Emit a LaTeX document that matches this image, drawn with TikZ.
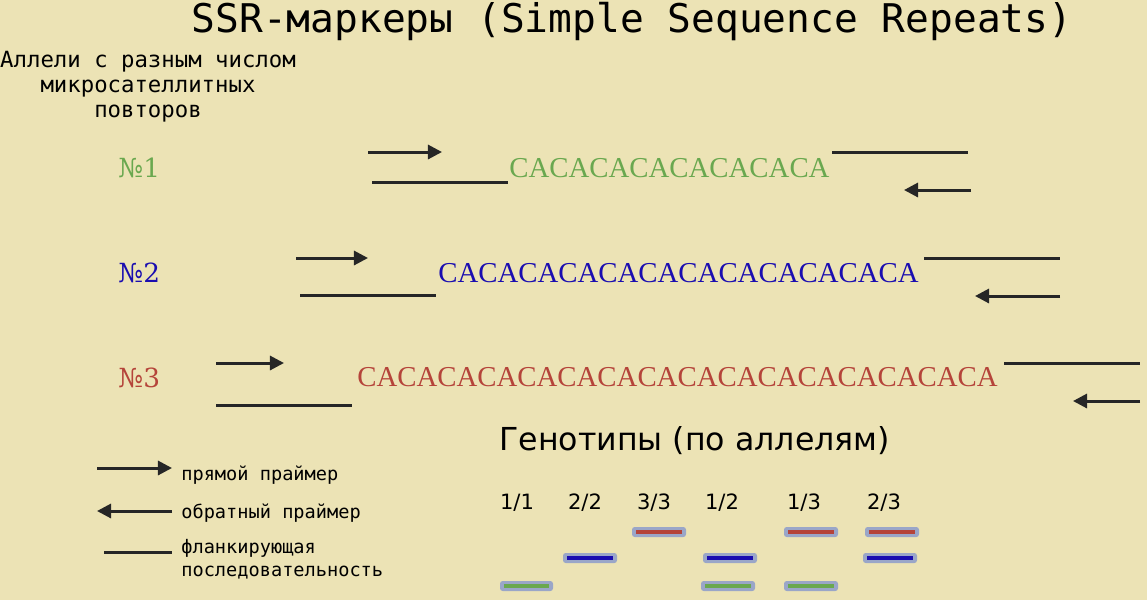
\documentclass[tikz,border=0pt]{standalone}
\usepackage{fontspec}
\setmainfont{Liberation Serif}
\newfontfamily\monof{DejaVu Sans Mono}
\newfontfamily\sansf{DejaVu Sans}
\newfontfamily\numf{DejaVu Serif}
\usetikzlibrary{arrows.meta}
\definecolor{bg}{HTML}{ECE3B5}
\definecolor{cg}{HTML}{6AA84F}
\definecolor{cb}{HTML}{1A0DB0}
\definecolor{cr}{HTML}{B5443A}
\definecolor{halo}{HTML}{9AA6C8}
\tikzset{
  ln/.style={line width=1.7pt,draw=black!85},
  arr/.style={ln,-{Triangle[length=8pt,width=8pt]}},
  seq/.style={anchor=west,inner sep=0,font=\fontsize{16.4}{18}\selectfont},
  num/.style={anchor=west,inner sep=0,font=\numf\fontsize{15}{18}\selectfont},
  leg/.style={anchor=west,inner sep=0,font=\monof\fontsize{10.6}{13}\selectfont,align=left},
  gl/.style={inner sep=0,font=\sansf\fontsize{12}{14}\selectfont},
}
\newcommand{\band}[4]{%
  \fill[halo,rounded corners=1.5pt] (#1,#3-5) rectangle (#2,#3+5);
  \draw[#4,line width=2.2pt] (#1+4,#3) -- (#2-4,#3);}
\begin{document}
\begin{tikzpicture}[x=0.02cm,y=-0.02cm]
\fill[bg] (0,0) rectangle (1147,600);
\useasboundingbox (0,0) rectangle (1147,600);
\node[inner sep=0,font=\monof\fontsize{22.5}{26}\selectfont] (title) at (632,22) {SSR-маркеры (Simple Sequence Repeats)};
\node[inner sep=0,align=center,font=\monof\fontsize{12.7}{14.2}\selectfont] (hdr) at (148,87) {Аллели с разным числом\\микросателлитных\\повторов};
% row 1
\node[num,text=cg] (n1) at (118,168) {№1};
\coordinate (a1s) at (368,152); \coordinate (a1e) at (442,152);
\draw[arr] (a1s) -- (a1e);
\coordinate (l1s) at (372,182); \coordinate (l1e) at (508,182);
\draw[ln] (l1s) -- (l1e);
\node[seq,text=cg] (s1) at (509,168) {CACACACACACACACA};
\coordinate (r1s) at (832,152); \coordinate (r1e) at (968,152);
\draw[ln] (r1s) -- (r1e);
\coordinate (b1s) at (971,190); \coordinate (b1e) at (904,190);
\draw[arr] (b1s) -- (b1e);
% row 2
\node[num,text=cb] (n2) at (118,273) {№2};
\coordinate (a2s) at (296,258); \coordinate (a2e) at (368,258);
\draw[arr] (a2s) -- (a2e);
\coordinate (l2s) at (300,295); \coordinate (l2e) at (436,295);
\draw[ln] (l2s) -- (l2e);
\node[seq,text=cb] (s2) at (438,273) {CACACACACACACACACACACACA};
\coordinate (r2s) at (924,258); \coordinate (r2e) at (1060,258);
\draw[ln] (r2s) -- (r2e);
\coordinate (b2s) at (1060,296); \coordinate (b2e) at (975,296);
\draw[arr] (b2s) -- (b2e);
% row 3
\node[num,text=cr] (n3) at (118,378) {№3};
\coordinate (a3s) at (216,363); \coordinate (a3e) at (284,363);
\draw[arr] (a3s) -- (a3e);
\coordinate (l3s) at (216,405); \coordinate (l3e) at (352,405);
\draw[ln] (l3s) -- (l3e);
\node[seq,text=cr] (s3) at (357,377) {CACACACACACACACACACACACACACACACA};
\coordinate (r3s) at (1004,363); \coordinate (r3e) at (1140,363);
\draw[ln] (r3s) -- (r3e);
\coordinate (b3s) at (1140,401); \coordinate (b3e) at (1073,401);
\draw[arr] (b3s) -- (b3e);
% legend
\coordinate (g1s) at (97,468); \coordinate (g1e) at (172,468);
\draw[arr] (g1s) -- (g1e);
\node[leg] (t1) at (181,475) {прямой праймер};
\coordinate (g2s) at (172,511); \coordinate (g2e) at (97,511);
\draw[arr] (g2s) -- (g2e);
\node[leg] (t2) at (181,513) {обратный праймер};
\coordinate (g3s) at (104,552); \coordinate (g3e) at (172,552);
\draw[ln] (g3s) -- (g3e);
\node[leg] (t3) at (181,559) {фланкирующая\\последовательность};
% genotypes
\node[inner sep=0,anchor=west,font=\sansf\fontsize{18}{20}\selectfont] (gt) at (499,441) {Генотипы (по аллелям)};
\node[gl] (k1) at (517,503) {1/1};
\node[gl] (k2) at (585,503) {2/2};
\node[gl] (k3) at (654,503) {3/3};
\node[gl] (k4) at (722,503) {1/2};
\node[gl] (k5) at (804,503) {1/3};
\node[gl] (k6) at (884,503) {2/3};
\band{500}{553}{586}{cg}
\band{563}{617}{558}{cb}
\band{632}{686}{532}{cr}
\band{703}{757}{558}{cb}
\band{701}{755}{586}{cg}
\band{784}{838}{532}{cr}
\band{784}{838}{586}{cg}
\band{865}{919}{532}{cr}
\band{863}{917}{558}{cb}
\end{tikzpicture}
\end{document}
